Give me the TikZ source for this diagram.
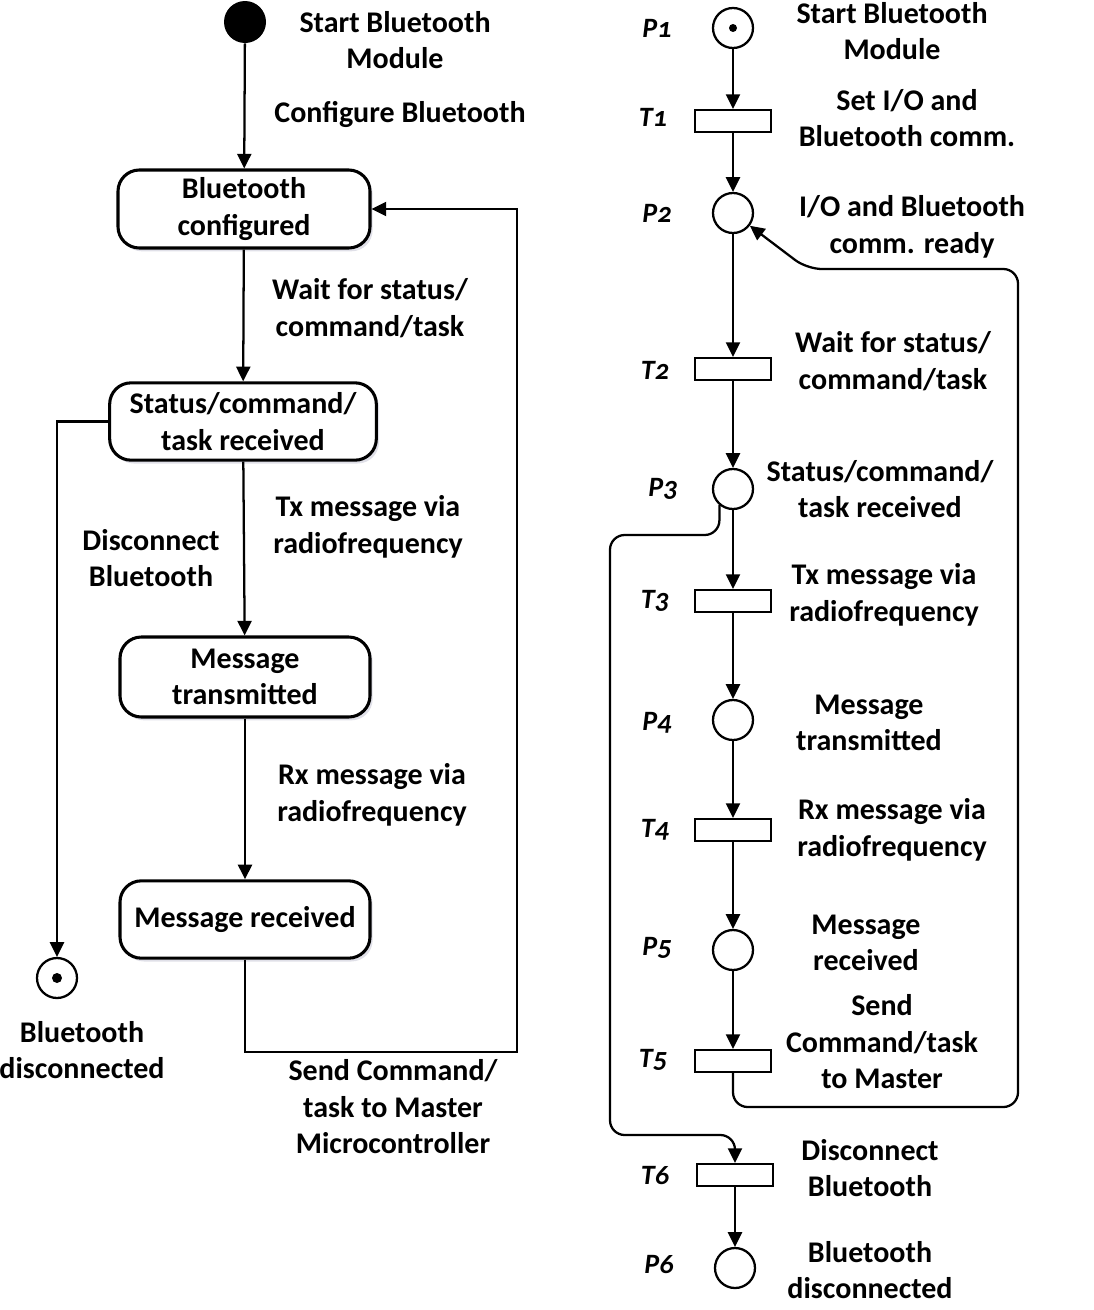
\documentclass[tikz,border=0pt]{standalone}
\usepackage{fontspec}
\setmainfont{Carlito}
\usetikzlibrary{arrows.meta,shadows,calc}
\begin{document}
\begin{tikzpicture}[x=0.75pt,y=-0.75pt,
  font=\fontsize{22.5}{27.4}\selectfont\bfseries,
  arr/.style={line width=1.7pt,-{Triangle[width=10.5pt,length=11pt]}},
  ln/.style={line width=1.7pt},
  statebox/.style={draw,line width=2.3pt,rounded corners=16pt,align=center,inner sep=0pt,fill=white,
     drop shadow={shadow xshift=2pt,shadow yshift=-2.5pt,fill=blue!15!gray!35,opacity=.6}},
  place/.style={circle,draw,line width=1.7pt,minimum size=30pt,inner sep=0pt},
  trans/.style={rectangle,draw,line width=1.6pt,minimum width=57pt,minimum height=16.5pt,inner sep=0pt},
  lbl/.style={align=center,inner sep=0pt},
  pn/.style={inner sep=0pt,font=\fontsize{21}{25}\selectfont\bfseries\itshape\addfontfeatures{Numbers=OldStyle}}
]
\useasboundingbox (0,0) rectangle (1093,1310);

% ---------------- left: state diagram ----------------
\node[circle,fill=black,minimum size=31.5pt,inner sep=0pt] (init) at (245,22) {};
\node[statebox,minimum width=189pt,minimum height=58.5pt] (s1) at (244,209) {Bluetooth\\configured};
\node[statebox,minimum width=200pt,minimum height=58pt] (s2) at (243,421.5) {Status/command/\\task received};
\node[statebox,minimum width=187.5pt,minimum height=60pt] (s3) at (245,677) {Message\\transmitted};
\node[statebox,minimum width=187.5pt,minimum height=58pt] (s4) at (245,919.5) {Message received};
\node[circle,draw,line width=1.7pt,minimum size=30pt,inner sep=0pt] (fin) at (57,978) {};
\node[circle,fill=black,minimum size=7.5pt,inner sep=0pt] (findot) at (fin) {};

\node[lbl] (l0) at (395,40) {Start Bluetooth\\Module};
\node[lbl] (l1) at (400,114) {Configure Bluetooth};
\node[lbl] (l2) at (370,308) {Wait for status/\\command/task};
\node[lbl] (l3) at (368,527) {Tx message via\\radiofrequency};
\node[lbl] (l4) at (151,558) {Disconnect\\Bluetooth};
\node[lbl] (l5) at (372,795) {Rx message via\\radiofrequency};
\node[lbl] (l6) at (82,1050) {Bluetooth\\disconnected};
\node[lbl] (l7) at (393,1107) {Send Command/\\task to Master\\Microcontroller};

\draw[arr] (init) -- (s1);
\draw[arr] (s1) -- (s2);
\draw[arr] (s2) -- (s3);
\draw[arr] (s3) -- (s4);
\draw[arr] (s2.west) -| (fin.north);
\coordinate (lb) at (245,1052);
\coordinate (lr) at (517,209);
\draw[arr] (s4.south) -- (lb) -| (lr) -- (s1.east);

% ---------------- right: Petri net ----------------
\node[place] (P1) at (733,28) {};
\node[circle,fill=black,minimum size=6pt,inner sep=0pt] (tok) at (P1) {};
\node[trans] (T1) at (733,121) {};
\node[place] (P2) at (733,213) {};
\node[trans] (T2) at (733,369) {};
\node[place] (P3) at (733,489) {};
\node[trans] (T3) at (733,601) {};
\node[place] (P4) at (733,720) {};
\node[trans] (T4) at (733,830) {};
\node[place] (P5) at (733,950) {};
\node[trans] (T5) at (733,1061) {};
\node[trans] (T6) at (735,1175) {};
\node[place] (P6) at (735,1268) {};

\node[pn] (nP1) at (657,28) {P1};
\node[pn] (nT1) at (653,117) {T1};
\node[pn] (nP2) at (657,213) {P2};
\node[pn] (nT2) at (655,370) {T2};
\node[pn] (nP3) at (663,489) {P3};
\node[pn] (nT3) at (655,601) {T3};
\node[pn] (nP4) at (657,723) {P4};
\node[pn] (nT4) at (655,830) {T4};
\node[pn] (nP5) at (657,948) {P5};
\node[pn] (nT5) at (653,1060) {T5};
\node[pn] (nT6) at (655,1176) {T6};
\node[pn] (nP6) at (659,1265) {P6};

\node[lbl] (r1) at (892,31) {Start Bluetooth\\Module};
\node[lbl] (r2) at (907,118) {Set I/O and\\Bluetooth comm.};
\node[lbl] (r3) at (912,227) {I/O and Bluetooth\\comm. ready};
\node[lbl] (r4) at (893,361) {Wait for status/\\command/task};
\node[lbl] (r5) at (880,489) {Status/command/\\task received};
\node[lbl] (r6) at (884,595) {Tx message via\\radiofrequency};
\node[lbl] (r7) at (869,723) {Message\\transmitted};
\node[lbl] (r8) at (892,830) {Rx message via\\radiofrequency};
\node[lbl] (r9) at (866,943) {Message\\received};
\node[lbl] (r10) at (882,1042) {Send\\Command/task\\to Master};
\node[lbl] (r11) at (870,1168) {Disconnect\\Bluetooth};
\node[lbl] (r12) at (870,1270) {Bluetooth\\disconnected};

\draw[arr] (P1) -- (T1);
\draw[arr] (T1) -- (P2);
\draw[arr] (P2) -- (T2);
\draw[arr] (T2) -- (P3);
\draw[arr] (P3) -- (T3);
\draw[arr] (T3) -- (P4);
\draw[arr] (P4) -- (T4);
\draw[arr] (T4) -- (P5);
\draw[arr] (P5) -- (T5);
\draw[arr] (T6) -- (P6);

\coordinate (c1) at (733,1107);
\coordinate (c2) at (1018,1107);
\coordinate (c3) at (1018,269);
\coordinate (c4) at (807,269);
\draw[arr,rounded corners=11pt] (T5.south) -- (c1) -- (c2) -- (c3) -- (c4) -- (P2);

\coordinate (d1) at (610,535);
\coordinate (d2) at (610,1135);
\draw[arr,rounded corners=11pt] (P3.-130) |- (d1) -- (d2) -| (T6.north);
\end{tikzpicture}
\end{document}
